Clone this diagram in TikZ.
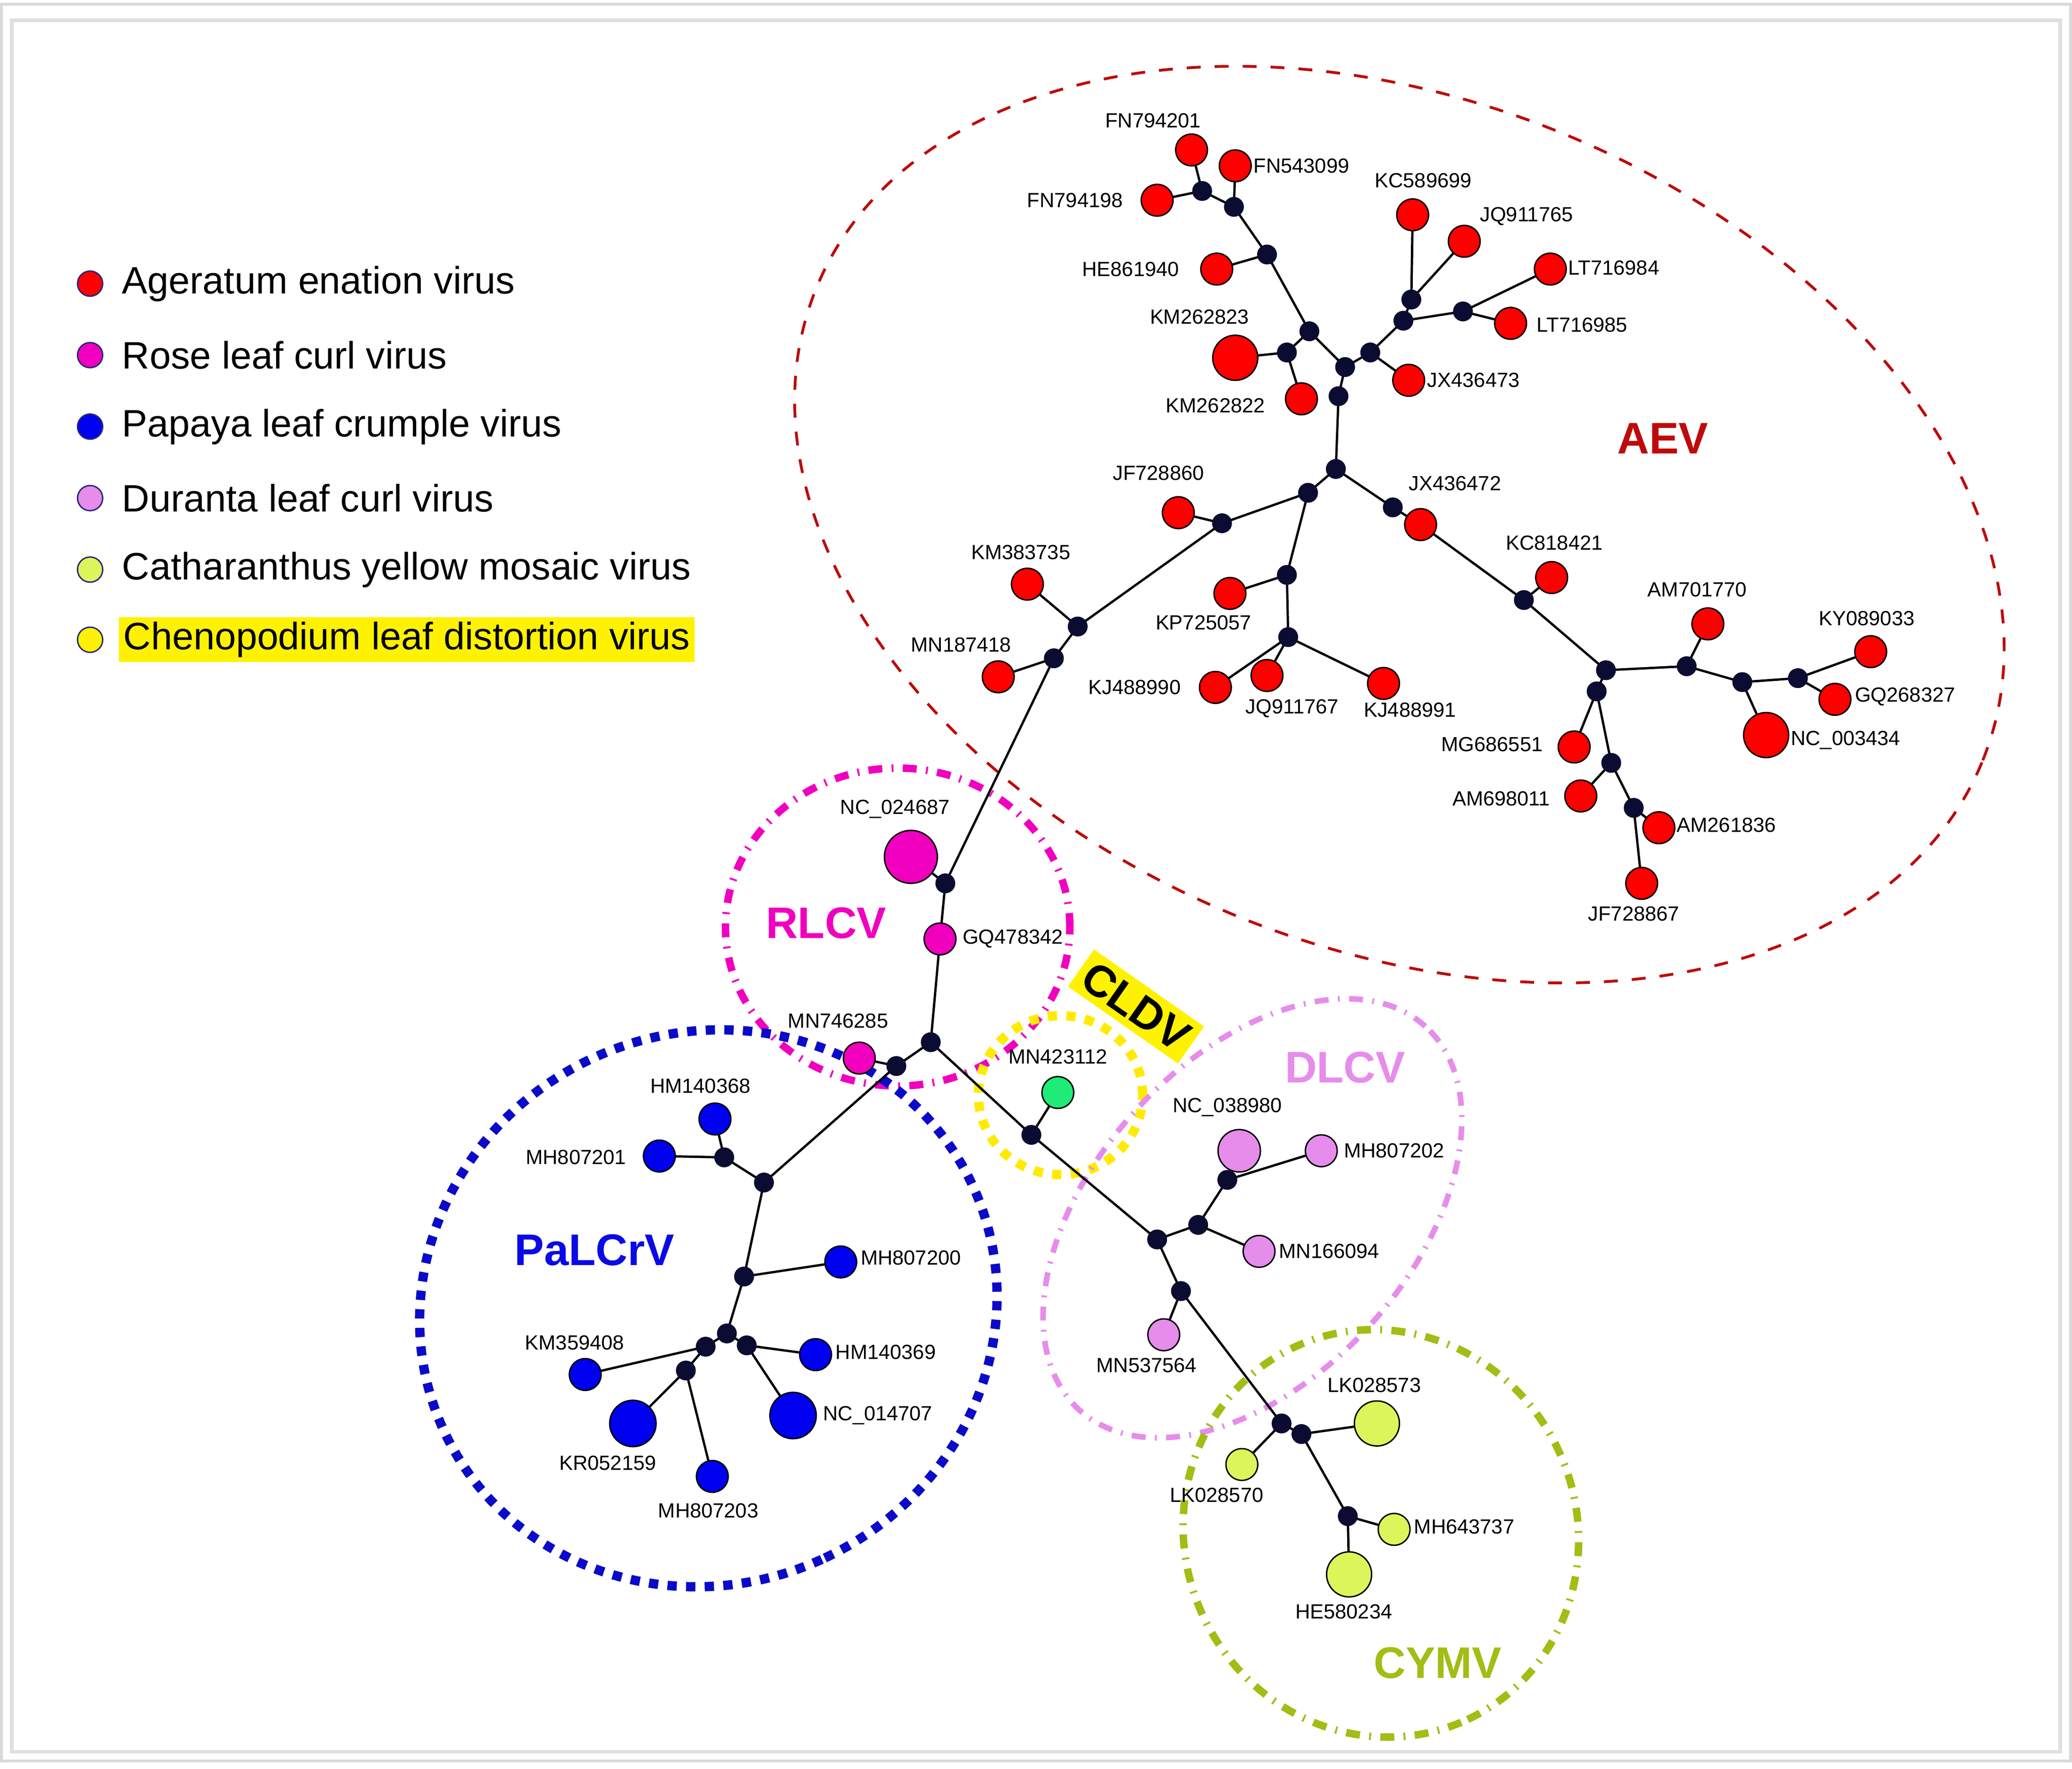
\documentclass[tikz,border=0pt]{standalone}
\usepackage{fontspec}
\setmainfont{Liberation Sans}
\begin{document}
\begin{tikzpicture}[x=0.01cm,y=-0.01cm,
  v/.style={circle,draw=black,line width=0.3pt,inner sep=0pt,minimum size=0.24cm},
  rn/.style={v,fill=red},
  rnB/.style={rn,minimum size=0.34cm},
  mg/.style={v,fill={rgb,255:red,240;green,0;blue,190}},
  mgB/.style={mg,minimum size=0.4cm},
  bl/.style={v,fill={rgb,255:red,0;green,0;blue,240}},
  blB/.style={bl,minimum size=0.35cm},
  vi/.style={v,fill={rgb,255:red,230;green,140;blue,235}},
  viB/.style={vi,minimum size=0.32cm},
  yg/.style={v,fill={rgb,255:red,220;green,245;blue,90}},
  ygB/.style={yg,minimum size=0.34cm},
  gr/.style={v,fill={rgb,255:red,30;green,235;blue,120}},
  j/.style={circle,fill={rgb,255:red,12;green,12;blue,50},inner sep=0pt,minimum size=0.15cm},
  lab/.style={font=\fontsize{4.4}{5}\selectfont,inner sep=0pt},
  leg/.style={font=\fontsize{8.2}{10}\selectfont,anchor=west,inner sep=1pt},
  cl/.style={font=\fontsize{9.5}{11}\selectfont\bfseries},
  e/.style={line width=0.5pt}]
\draw[gray!30,line width=0.6pt,fill=white] (0,0) rectangle (1563,1327);
\draw[gray!25,line width=0.8pt] (8,12) rectangle (1555,1320);
% ellipses
\coordinate (cAEV) at (1056,393);
\draw[dashed,line width=0.6pt,color={rgb,255:red,190;green,10;blue,10}] [rotate around={-22:(cAEV)}] (cAEV) ellipse [x radius=4.75cm,y radius=3.2cm];
\coordinate (cRL) at (677,697);
\draw[dash dot,line width=1.6pt,color={rgb,255:red,240;green,0;blue,190}] (cRL) ellipse [x radius=1.3cm,y radius=1.2cm];
\coordinate (cCL) at (800,824);
\draw[dotted,line width=2pt,color={rgb,255:red,255;green,235;blue,0}] (cCL) ellipse [x radius=0.62cm,y radius=0.6cm];
\coordinate (cDL) at (945,917);
\draw[dash dot,line width=1.2pt,color={rgb,255:red,230;green,140;blue,235}] [rotate around={48:(cDL)}] (cDL) ellipse [x radius=1.95cm,y radius=1.2cm];
\coordinate (cPA) at (534,985);
\draw[dotted,line width=2pt,color={rgb,255:red,10;green,10;blue,200}] [rotate around={-65:(cPA)}] (cPA) ellipse [x radius=2.08cm,y radius=2.2cm];
\coordinate (cCY) at (1042,1155);
\draw[dash dot,line width=1.6pt,color={rgb,255:red,160;green,190;blue,20}] [rotate around={-65:(cCY)}] (cCY) ellipse [x radius=1.55cm,y radius=1.48cm];
% cluster labels
\node[cl,color={rgb,255:red,190;green,10;blue,10}] (tAEV) at (1255,328) {AEV};
\node[cl,color={rgb,255:red,240;green,0;blue,190}] (tRL) at (623,694) {RLCV};
\node[cl,color={rgb,255:red,230;green,140;blue,235}] (tDL) at (1015,803) {DLCV};
\node[cl,color={rgb,255:red,10;green,10;blue,230}] (tPA) at (448,941) {PaLCrV};
\node[cl,color={rgb,255:red,160;green,190;blue,20}] (tCY) at (1085,1253) {CYMV};
\node[cl,fill=yellow,rotate=-35,inner sep=1.5pt] (tCL) at (857,757) {CLDV};
% legend
\foreach \c/\t/\y [count=\i] in {rn/Ageratum enation virus/211,mg/Rose leaf curl virus/265,bl/Papaya leaf crumple virus/319,vi/Duranta leaf curl virus/373,yg/Catharanthus yellow mosaic virus/427}{
  \node[\c,draw={rgb,255:red,40;green,40;blue,120},minimum size=0.19cm] (lg\i) at (67,\y) {};
  \node[leg] (lt\i) at (87,\y) {\t};}
\node[v,fill=yellow,draw={rgb,255:red,40;green,40;blue,120},minimum size=0.19cm] (lg6) at (67,480) {};
\node[leg,fill=yellow] (lt6) at (88,480) {Chenopodium leaf distortion virus};
% junctions
\foreach \n/\x/\y in {j1/907/141,j2/931/153,j3/956/189,j4/1065/223,j5/1059/239,j6/1104/232,j7/971/263,j8/988/247,j9/1015/274,j10/1034/263,j11/1010/296,j12/1008/351,j13/1051/380,j14/922/392,j15/987/369,j16/971/431,j17/972/478,j18/1150/450,j19/1212/503,j20/1273/500,j21/1315/512,j22/1357/509,j23/1205/519,j24/1216/573,j25/1233/607,j26/813/470,j27/795/494,j28/713/664,j29/702/784,j30/676/802,j31/576/890,j32/778/854,j33/873/933,j34/904/922,j35/926/888,j36/891/972,j37/967/1072,j38/982/1080,j39/1017/1142,j40/546/871,j41/561/961,j42/548/1004,j43/563/1013,j44/532/1014,j45/517/1032}
  \coordinate (\n) at (\x,\y);
\def\tips{
 FN794201/rn/899/110/870/88/FN794201, FN543099/rn/932/122/982/122/FN543099, FN794198/rn/873/148/811/148/FN794198,
 HE861940/rn/918/200/853/200/HE861940, KC589699/rn/1066/159/1074/133/KC589699, JQ911765/rn/1105/179/1152/160/JQ911765,
 LT716984/rn/1170/200/1218/199/LT716984, LT716985/rn/1140/241/1194/242/LT716985, KM262823/rnB/932/267/905/236/KM262823,
 KM262822/rn/982/298/917/303/KM262822, JX436473/rn/1063/284/1112/284/JX436473, JX436472/rn/1072/393/1098/362/JX436472,
 JF728860/rn/889/384/874/354/JF728860, KM383735/rn/775/438/770/414/KM383735, KP725057/rn/928/445/908/467/KP725057,
 KJ488990/rn/917/516/856/516/KJ488990, JQ911767/rn/956/507/975/532/JQ911767, KJ488991/rn/1044/513/1064/533/KJ488991,
 KC818421/rn/1171/433/1173/407/KC818421, AM701770/rn/1289/468/1281/442/AM701770, KY089033/rn/1412/489/1409/464/KY089033,
 GQ268327/rn/1385/525/1438/523/GQ268327, NC003434/rnB/1333/552/1393/556/NC\_003434,
 MG686551/rn/1188/561/1126/559/MG686551, AM698011/rn/1193/598/1133/600/AM698011, AM261836/rn/1252/622/1303/620/AM261836,
 JF728867/rn/1239/664/1233/687/JF728867, MN187418/rn/753/508/725/484/MN187418,
 NC024687/mgB/687/644/675/608/NC\_024687, GQ478342/mg/709/706/764/706/GQ478342, MN746285/mg/648/796/632/768/MN746285,
 MN423112/gr/798/822/798/795/MN423112,
 NC038980/viB/935/866/926/833/NC\_038980, MH807202/vi/997/866/1052/866/MH807202, MN166094/vi/950/942/1003/942/MN166094,
 MN537564/vi/878/1005/865/1028/MN537564,
 LK028570/yg/937/1103/918/1126/LK028570, LK028573/ygB/1039/1072/1037/1043/LK028573, MH643737/yg/1052/1152/1105/1150/MH643737,
 HE580234/ygB/1018/1186/1014/1214/HE580234,
 HM140368/bl/539/842/528/817/HM140368, MH807201/bl/497/870/434/871/MH807201, MH807200/bl/634/950/687/947/MH807200,
 HM140369/bl/615/1020/668/1018/HM140369, NC014707/blB/598/1066/662/1066/NC\_014707,
 KM359408/bl/441/1035/433/1011/KM359408, KR052159/blB/477/1072/458/1102/KR052159, MH807203/bl/537/1112/534/1138/MH807203}
\foreach \n/\s/\x/\y/\lx/\ly/\t in \tips { \coordinate (\n) at (\x,\y); }
% edges
\foreach \a/\b in {j1/FN794201,j1/FN794198,j1/j2,j2/FN543099,j2/j3,j3/HE861940,j3/j8,j8/j7,j7/KM262823,j7/KM262822,j8/j9,j9/j11,j9/j10,j10/j5,j5/j4,j4/KC589699,j4/JQ911765,j5/j6,j6/LT716984,j6/LT716985,j10/JX436473,j11/j12,j12/j13,j13/JX436472,JX436472/j18,j18/KC818421,j18/j19,j19/j20,j20/AM701770,j20/j21,j21/NC003434,j21/j22,j22/KY089033,j22/GQ268327,j19/j23,j23/MG686551,j23/j24,j24/AM698011,j24/j25,j25/AM261836,j25/JF728867,j12/j15,j15/j14,j14/JF728860,j15/j16,j16/KP725057,j16/j17,j17/KJ488990,j17/JQ911767,j17/KJ488991,j14/j26,j26/KM383735,j26/j27,j27/MN187418,j27/j28,j28/NC024687,j28/GQ478342,GQ478342/j29,j29/j30,j30/MN746285,j30/j31,j29/j32,j32/MN423112,j32/j33,j33/j34,j34/j35,j35/NC038980,j35/MH807202,j34/MN166094,j33/j36,j36/MN537564,j36/j37,j37/j38,j37/LK028570,j38/LK028573,j38/j39,j39/MH643737,j39/HE580234,j31/j40,j40/HM140368,j40/MH807201,j31/j41,j41/MH807200,j41/j42,j42/j43,j43/HM140369,j43/NC014707,j42/j44,j44/KM359408,j44/j45,j45/KR052159,j45/MH807203}
  \draw[e] (\a) -- (\b);
% nodes on top
\foreach \n/\s/\x/\y/\lx/\ly/\t in \tips
{ \node[\s] (n\n) at (\n) {}; \node[lab] (l\n) at (\lx,\ly) {\t}; }
\foreach \n in {j1,j2,j3,j4,j5,j6,j7,j8,j9,j10,j11,j12,j13,j14,j15,j16,j17,j18,j19,j20,j21,j22,j23,j24,j25,j26,j27,j28,j29,j30,j31,j32,j33,j34,j35,j36,j37,j38,j39,j40,j41,j42,j43,j44,j45}
  \node[j] (d\n) at (\n) {};
\end{tikzpicture}
\end{document}
